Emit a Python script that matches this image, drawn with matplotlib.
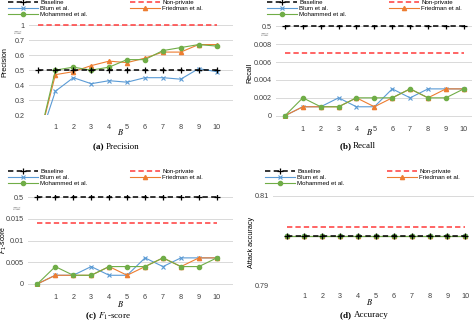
import numpy as np
import matplotlib.pyplot as plt

W, H = 474, 321

B = list(range(11))
B_labels = [''] + [str(i) for i in range(1, 11)]

# (a) precision
prec_baseline = [0.5] * 11
prec_nonprivate = [1.0] * 11
prec_blum = [0, 0.36, 0.45, 0.41, 0.43, 0.42, 0.45, 0.45, 0.44, 0.51, 0.49]
prec_friedman = [0, 0.47, 0.49, 0.53, 0.56, 0.55, 0.58, 0.62, 0.62, 0.67, 0.67]
prec_mohammed = [0, 0.50, 0.52, 0.50, 0.52, 0.57, 0.57, 0.63, 0.65, 0.67, 0.66]

# (b) recall
rec_baseline = [0.5] * 11
rec_nonprivate = [0.007] * 11
rec_blum = [0, 0.001, 0.001, 0.002, 0.001, 0.001, 0.003, 0.002, 0.003, 0.003, 0.003]
rec_friedman = [0, 0.001, 0.001, 0.001, 0.002, 0.001, 0.002, 0.003, 0.002, 0.003, 0.003]
rec_mohammed = [0, 0.002, 0.001, 0.001, 0.002, 0.002, 0.002, 0.003, 0.002, 0.002, 0.003]

# (c) f1-score
f1_baseline = [0.5] * 11
f1_nonprivate = [0.014] * 11
f1_blum = [0, 0.002, 0.002, 0.004, 0.002, 0.002, 0.006, 0.004, 0.006, 0.006, 0.006]
f1_friedman = [0, 0.002, 0.002, 0.002, 0.004, 0.002, 0.004, 0.006, 0.004, 0.006, 0.006]
f1_mohammed = [0, 0.004, 0.002, 0.002, 0.004, 0.004, 0.004, 0.006, 0.004, 0.004, 0.006]

# (d) attack accuracy
acc_baseline = [0.801] * 11
acc_nonprivate = [0.803] * 11
acc_blum = [0.801] * 11
acc_friedman = [0.801] * 11
acc_mohammed = [0.801] * 11

plt.rcParams['font.family'] = ['Liberation Sans', 'DejaVu Sans']

fig = plt.figure(figsize=(W / 100, H / 100), dpi=100)


def px_axes(l, r, t, b):
    return fig.add_axes([l / W, 1 - b / H, (r - l) / W, (b - t) / H])


def squash(vals, cut, pos):
    # values above the axis break are drawn at the top tick
    return [pos if v > cut else v for v in vals]


def panel(ax, series, xlim, ylim, yticks, yticklabels, brk=None):
    base, nonpriv, blum, fried, moh = series
    h_np, = ax.plot(B, nonpriv, color='#FF3B3B', lw=1.1, dashes=(3.5, 2), zorder=3)
    h_bl, = ax.plot(B, blum, color='#5B9BD5', lw=0.8, marker='x', ms=3.2, mew=0.8, zorder=4)
    h_fr, = ax.plot(B, fried, color='#ED7D31', lw=0.8, marker='^', ms=3, zorder=5)
    h_mo, = ax.plot(B, moh, color='#70AD47', lw=0.8, marker='o', ms=3, zorder=6)
    h_ba, = ax.plot(B, base, color='black', lw=1.1, dashes=(3.5, 2.2), marker='+',
                    ms=5, mew=0.9, zorder=7)
    ax.set_xlim(*xlim)
    ax.set_ylim(*ylim)
    ax.set_xticks(B)
    ax.set_xticklabels(B_labels)
    ax.set_yticks(yticks)
    ax.set_yticklabels(yticklabels)
    ax.tick_params(length=0, labelsize=5.2, colors='#404040')
    ax.tick_params(axis='x', pad=6)
    ax.tick_params(axis='y', pad=3)
    for s in ax.spines.values():
        s.set_visible(False)
    ax.grid(axis='y', color='#D9D9D9', lw=0.7)
    ax.set_axisbelow(True)
    if brk is not None:
        ax.annotate('≈', xy=(0, brk), xycoords=ax.get_yaxis_transform(),
                    xytext=(-5, 0), textcoords='offset points', ha='right', va='center',
                    color='#A6A6A6', fontsize=8, family='DejaVu Sans')
    return [h_ba, h_bl, h_mo, h_np, h_fr]


def legend(handles, x, y):
    fig.legend(handles, ['Baseline', 'Blum et al.', 'Mohammed et al.', 'Non-private', 'Friedman et al.'],
               loc='upper left', bbox_to_anchor=(x / W, 1 - y / H), ncol=2, frameon=False,
               fontsize=4.4, handlelength=4.9, handletextpad=0.35, columnspacing=7.0,
               labelspacing=0.1, borderpad=0, borderaxespad=0, numpoints=1)


def caption(tag, text, x, y):
    fig.text(x / W, 1 - y / H, tag + ' ', ha='right', va='center', fontsize=6.5,
             family='Liberation Serif', weight='bold')
    fig.text(x / W, 1 - y / H, text, ha='left', va='center', fontsize=6.5,
             family='Liberation Serif', math_fontfamily='stix')


# (a)
ax = px_axes(29, 233, 23.5, 115.3)
h = panel(ax, [prec_baseline, squash(prec_nonprivate, 0.75, 0.8), prec_blum, prec_friedman, prec_mohammed],
          (-0.475, 10.92), (0.2, 0.81), [0.2, 0.3, 0.4, 0.5, 0.6, 0.7, 0.8],
          ['0.2', '0.3', '0.4', '0.5', '0.6', '0.7', '1'], brk=0.75)
legend(h, 8, 0)
fig.text(5 / W, 1 - 62 / H, 'Precision', rotation=90, ha='center', va='center', fontsize=5.2)
fig.text(120 / W, 1 - 132 / H, '$B$', ha='center', va='center', fontsize=6, math_fontfamily='stix')
caption('(a)', 'Precision', 106, 147)

# (b)
ax = px_axes(276, 472, 24.5, 117.5)
h = panel(ax, [squash(rec_baseline, 0.009, 0.01), rec_nonprivate, rec_blum, rec_friedman, rec_mohammed],
          (-0.5, 10.46), (-0.0002, 0.0102), [0, 0.002, 0.004, 0.006, 0.008, 0.01],
          ['0', '0.002', '0.004', '0.006', '0.008', '0.5'], brk=0.009)
legend(h, 267, 0)
fig.text(250 / W, 1 - 73 / H, 'Recall', rotation=90, ha='center', va='center', fontsize=5.2)
fig.text(369 / W, 1 - 132 / H, '$B$', ha='center', va='center', fontsize=6, math_fontfamily='stix')
caption('(b)', 'Recall', 353, 146)

# (c)
ax = px_axes(28, 233, 195.3, 285.7)
h = panel(ax, [squash(f1_baseline, 0.018, 0.02), f1_nonprivate, f1_blum, f1_friedman, f1_mohammed],
          (-0.52, 10.9), (-0.0004, 0.0204), [0, 0.005, 0.01, 0.015, 0.02],
          ['0', '0.005', '0.01', '0.015', '0.5'], brk=0.0173)
legend(h, 8, 169)
fig.text(4 / W, 1 - 240 / H, '$F_1$-score', rotation=90, ha='center', va='center', fontsize=5.0)
fig.text(120 / W, 1 - 304 / H, '$B$', ha='center', va='center', fontsize=6, math_fontfamily='stix')
caption('(c)', '$F_1$-score', 98.5, 316)

# (d)
ax = px_axes(273, 474, 196, 285)
h = panel(ax, [acc_baseline, acc_nonprivate, acc_blum, acc_friedman, acc_mohammed],
          (-0.76, 10.49), (0.79, 0.81), [0.79, 0.81], ['0.79', '0.81'])
legend(h, 265, 169)
fig.text(252 / W, 1 - 242 / H, 'Attack accuracy', rotation=90, ha='center', va='center', fontsize=5.2)
fig.text(369 / W, 1 - 302 / H, '$B$', ha='center', va='center', fontsize=6, math_fontfamily='stix')
caption('(d)', 'Accuracy', 353.5, 315)

fig.savefig('out.png', dpi=100)
